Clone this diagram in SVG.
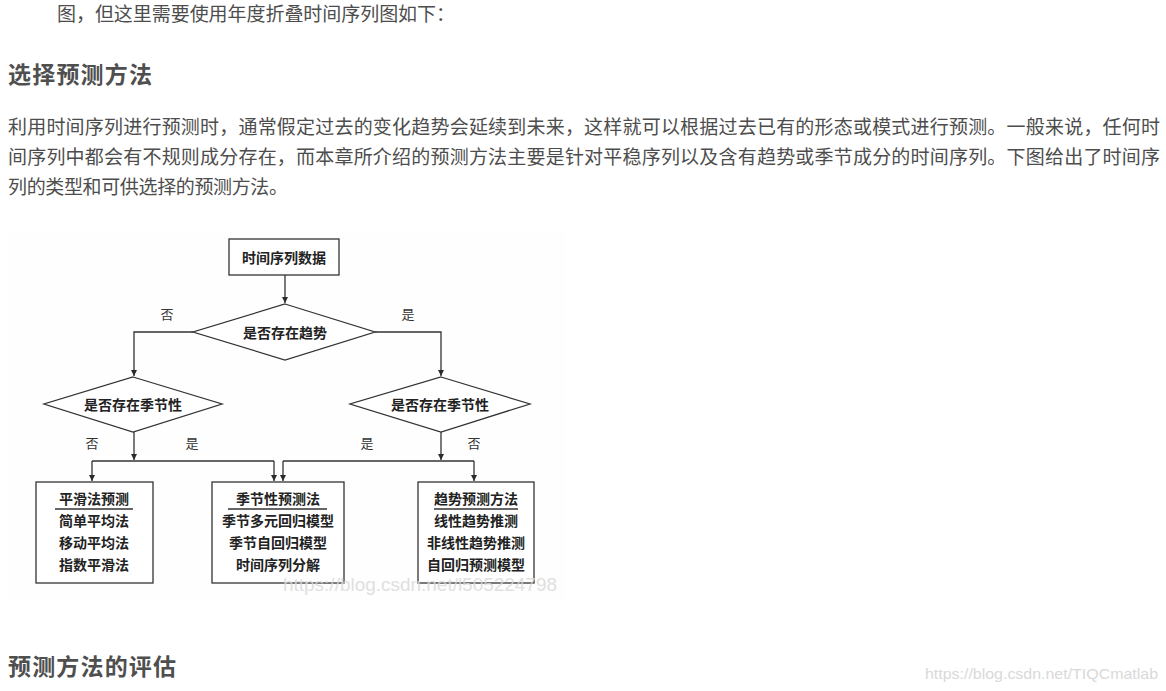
<svg xmlns="http://www.w3.org/2000/svg" width="1166" height="691" viewBox="0 0 1166 691">
<defs>
<marker id="arr" viewBox="0 0 10 10" refX="10" refY="5" markerWidth="6" markerHeight="6" orient="auto" markerUnits="userSpaceOnUse">
<path d="M0,0 L10,5 L0,10 z" fill="#2a2a2a"/>
</marker>
<style>
.page{font-family:"Noto Sans CJK SC","Liberation Sans",sans-serif;fill:#4d4d4d;font-size:19px}
.h{font-family:"Noto Sans CJK SC","Liberation Sans",sans-serif;fill:#4f4f4f;font-size:23px;font-weight:bold}
.shape{fill:#fff;stroke:#333;stroke-width:1.3}
.line{fill:none;stroke:#333;stroke-width:1.3}
.t{font-family:"Noto Sans CJK SC",sans-serif;fill:#222;font-size:14px;font-weight:bold;text-anchor:middle;dominant-baseline:central}
.lab{font-family:"Noto Sans CJK SC",sans-serif;fill:#333;font-size:13px;text-anchor:middle;dominant-baseline:central}
.wm{font-family:"Liberation Sans",sans-serif;fill:#d9d9d9}
</style>
</defs>
<rect width="1166" height="691" fill="#fff"/>
<text class="page" x="57" y="21" textLength="398" lengthAdjust="spacing">图，但这里需要使用年度折叠时间序列图如下：</text>
<text class="h" x="8" y="83" textLength="144" lengthAdjust="spacing">选择预测方法</text>
<text class="page" x="8" y="134" textLength="1152" lengthAdjust="spacing">利用时间序列进行预测时，通常假定过去的变化趋势会延续到未来，这样就可以根据过去已有的形态或模式进行预测。一般来说，任何时</text>
<text class="page" x="8" y="164" textLength="1152" lengthAdjust="spacing">间序列中都会有不规则成分存在，而本章所介绍的预测方法主要是针对平稳序列以及含有趋势或季节成分的时间序列。下图给出了时间序</text>
<text class="page" x="8" y="194" textLength="280" lengthAdjust="spacing">列的类型和可供选择的预测方法。</text>

<rect x="8" y="231" width="557" height="370" fill="#fefefe"/>

<g id="connectors">
<path class="line" d="M285 275 V303" marker-end="url(#arr)"/>
<path class="line" d="M193 332 H134 V376" marker-end="url(#arr)"/>
<path class="line" d="M375 332 H441 V376" marker-end="url(#arr)"/>
<path class="line" d="M134 432 V460" marker-end="url(#arr)"/>
<path class="line" d="M92 461 H274"/>
<path class="line" d="M92 461 V481" marker-end="url(#arr)"/>
<path class="line" d="M274 461 V481" marker-end="url(#arr)"/>
<path class="line" d="M441 432 V460" marker-end="url(#arr)"/>
<path class="line" d="M283 461 H474"/>
<path class="line" d="M283 461 V481" marker-end="url(#arr)"/>
<path class="line" d="M474 461 V481" marker-end="url(#arr)"/>
<text class="lab" x="167" y="313">否</text>
<text class="lab" x="408" y="313">是</text>
<text class="lab" x="92" y="442">否</text>
<text class="lab" x="192" y="442">是</text>
<text class="lab" x="367" y="442">是</text>
<text class="lab" x="474" y="442">否</text>
</g>

<g id="node-data">
<rect class="shape" x="229" y="239" width="110" height="36"/>
<text class="t" x="284" y="257">时间序列数据</text>
</g>
<g id="node-trend">
<polygon class="shape" points="285,304 375,332 285,360 193,332"/>
<text class="t" x="285" y="332">是否存在趋势</text>
</g>
<g id="node-season-left">
<polygon class="shape" points="133,377 222,404 133,432 44,404"/>
<text class="t" x="133" y="404">是否存在季节性</text>
</g>
<g id="node-season-right">
<polygon class="shape" points="441,377 530,404 441,432 350,404"/>
<text class="t" x="440" y="404">是否存在季节性</text>
</g>
<g id="node-smooth">
<rect class="shape" x="36" y="482" width="117" height="101"/>
<text class="t" x="94" y="498">平滑法预测</text>
<line class="line" x1="55" y1="509" x2="133" y2="509"/>
<text class="t" x="94" y="520">简单平均法</text>
<text class="t" x="94" y="542">移动平均法</text>
<text class="t" x="94" y="564">指数平滑法</text>
</g>
<g id="node-seasonal">
<rect class="shape" x="212" y="482" width="132" height="101"/>
<text class="t" x="278" y="498">季节性预测法</text>
<line class="line" x1="228" y1="509" x2="327" y2="509"/>
<text class="t" x="278" y="520">季节多元回归模型</text>
<text class="t" x="278" y="542">季节自回归模型</text>
<text class="t" x="278" y="564">时间序列分解</text>
</g>
<g id="node-trendmethods">
<rect class="shape" x="418" y="482" width="116" height="101"/>
<text class="t" x="476" y="498">趋势预测方法</text>
<line class="line" x1="434" y1="509" x2="518" y2="509"/>
<text class="t" x="476" y="520">线性趋势推测</text>
<text class="t" x="476" y="542">非线性趋势推测</text>
<text class="t" x="476" y="564">自回归预测模型</text>
</g>
<text class="wm" x="283" y="591" font-size="19" textLength="274" lengthAdjust="spacingAndGlyphs" opacity="0.8">https://blog.csdn.net/l505224798</text>

<text class="h" x="8" y="675" textLength="168" lengthAdjust="spacing">预测方法的评估</text>
<text class="wm" x="925" y="679" font-size="15" textLength="233" lengthAdjust="spacingAndGlyphs">https://blog.csdn.net/TIQCmatlab</text>
</svg>
